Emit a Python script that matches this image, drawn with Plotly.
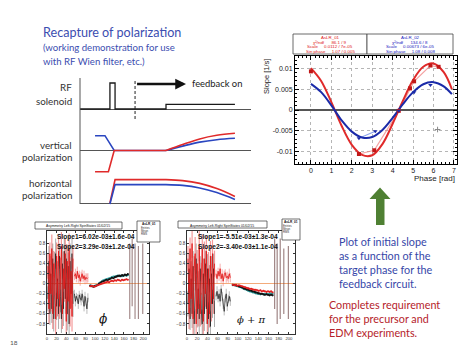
import plotly.graph_objects as go

W, H = 474, 355


def dx(a, b):
    return [a / W, b / W]


def dy(top, bottom):
    return [1 - bottom / H, 1 - top / H]


def px(x):
    return x / W


def py(y):
    return 1 - y / H


# ---------------- DATA ----------------
# Main chart: slope vs target phase (fit curves)
phase_grid = [0, 0.5, 1.0, 1.5, 2.0, 2.5, 3.0, 3.5, 4.0, 4.5, 5.0, 5.5, 6.0, 6.5, 6.9]
red_fit = [0.0101, 0.0070, 0.0019, -0.0038, -0.0084, -0.0108, -0.0109, -0.0082,
           -0.0033, 0.0022, 0.0072, 0.0104, 0.0112, 0.0091, 0.0050]
blue_fit = [0.0063, 0.0043, 0.0011, -0.0025, -0.0052, -0.0066, -0.0065, -0.0048,
            -0.0019, 0.0014, 0.0043, 0.0062, 0.0067, 0.0057, 0.0038]
red_meas_x = [0, 2.35, 3.1, 4.3, 4.85, 5.05, 5.85, 6.25]
red_meas_y = [0.0093, -0.0106, -0.0097, -0.0002, 0.0052, 0.0069, 0.0107, 0.0104]
blue_meas_x = [2.35, 3.15, 4.3, 5.05, 5.85]
blue_meas_y = [-0.0068, -0.0051, -0.0002, 0.0043, 0.0060]
gray_meas_x = [6.2]
gray_meas_y = [-0.0047]
x_ticks = [0, 1, 2, 3, 4, 5, 6, 7]
y_ticks = [-0.01, -0.005, 0, 0.005, 0.01]
y_tick_text = ["-0.01", "-0.005", "0", "0.005", "0.01"]

stat_red = ["AsLR_01", "χ²/ndf      86.1 / 9", "Scale     0.0112 / 7e-05", "Sin phase     1.07 / 0.005"]
stat_blue = ["AsLR_02", "χ²/ndf      134.6 / 8", "Scale     0.00673 / 6e-05", "Sin phase     1.08 / 0.008"]

# Schematic (time in arbitrary units 0..100)
rf_t = [0, 17.5, 17.5, 20.5, 20.5, 50.3, 50.3, 90.6]
rf_v = [0, 0, 1, 1, 0, 0, 0.18, 0.18]
vert_blue_t = [8.8, 14.6, 20.0, 50.3]
vert_blue_v = [0.74, 0.74, 0, 0]
vert_blue_rise_t = [50.3, 60, 70, 80, 90.6]
vert_blue_rise_v = [0, 0.22, 0.42, 0.54, 0.61]
vert_red_t = [8.8, 16.6, 20.0, 50.3]
vert_red_v = [-1.06, -1.06, 0, 0]
vert_red_rise_t = [50.3, 60, 70, 80, 90.6]
vert_red_rise_v = [0, 0.30, 0.58, 0.76, 0.86]
hor_red_t = [17.5, 20.5, 50.3]
hor_red_v = [0, 1.17, 1.17]
hor_red_fall_t = [50.3, 60, 70, 80, 90.6]
hor_red_fall_v = [1.17, 1.12, 0.98, 0.72, 0.33]
hor_blue_t = [17.5, 20.5, 50.3]
hor_blue_v = [-0.05, 0.92, 0.92]
hor_blue_fall_t = [50.3, 60, 70, 80, 90.6]
hor_blue_fall_v = [0.92, 0.88, 0.75, 0.52, 0.18]
feedback_on_t = 32.2
feedback_arrow_end_t = 62.0

# Small asymmetry plots
noisy_x = [2, 4, 6, 8, 10, 12, 14, 16, 18, 20, 22, 24, 26, 28, 30, 32, 34, 36, 38, 40, 42, 44, 46, 48, 50, 52, 54]
noisy_err = [0.25, 0.3, 0.22, 0.35, 0.28, 0.3, 0.25, 0.33, 0.3, 0.27, 0.35, 0.3, 0.25, 0.32, 0.28,
             0.3, 0.34, 0.26, 0.3, 0.29, 0.33, 0.27, 0.3, 0.35, 0.28, 0.3, 0.26]
mid_x = [57, 59, 61, 63, 65, 67, 69, 71, 73, 75, 77, 79, 81, 83, 85]
mid_err = [0.08, 0.1, 0.07, 0.09, 0.1, 0.08, 0.09, 0.1, 0.08, 0.07, 0.1, 0.09, 0.08, 0.1, 0.09]
right_x = [90, 93, 96, 99, 102, 105, 108, 111, 114, 117, 120, 123, 126, 129, 132, 135, 138, 141,
           144, 147, 150, 153, 156, 159, 162, 165, 168]
bar_x = [172, 177, 183, 190, 199]

red_noise1 = [0.35, -0.5, 0.6, -0.2, 0.7, -0.6, 0.4, 0.1, -0.7, 0.55, -0.3, 0.65, -0.45, 0.2, 0.75,
              -0.6, 0.3, -0.1, 0.6, -0.75, 0.45, -0.35, 0.7, -0.5, 0.25, -0.65, 0.5]
black_noise1 = [-0.3, 0.45, -0.6, 0.2, -0.5, 0.5, -0.7, 0.3, 0.6, -0.45, 0.1, -0.6, 0.55, -0.25,
                -0.7, 0.4, -0.5, 0.65, -0.3, 0.5, -0.6, 0.35, -0.8, 0.45, -0.2, 0.6, -0.4]
red_mid1 = [0.15, 0.2, 0.1, 0.25, 0.12, 0.18, 0.05, 0.14, 0.2, 0.1, 0.16, 0.08, 0.13, 0.1, 0.12]
black_mid1 = [-0.2, -0.35, -0.25, -0.3, -0.4, -0.22, -0.28, -0.33, -0.2, -0.3, -0.45, -0.25, -0.35, -0.5, -0.28]
red_right1 = [-0.05, -0.04, -0.05, -0.06, -0.04, -0.03, -0.02, -0.01, 0.0, 0.01, 0.02, 0.03, 0.04, 0.03,
              0.05, 0.06, 0.05, 0.07, 0.06, 0.08, 0.07, 0.06, 0.08, 0.07, 0.08, 0.09, 0.08]
black_right1 = [-0.04, -0.05, -0.06, -0.05, -0.04, -0.03, 0.0, 0.02, 0.04, 0.05, 0.06, 0.08, 0.07, 0.09,
                0.1, 0.12, 0.11, 0.13, 0.14, 0.15, 0.16, 0.15, 0.17, 0.16, 0.18, 0.17, 0.19]
cyan_right1 = [-0.03, -0.04, -0.05, -0.04, -0.03, -0.02, 0.01, 0.03, 0.05, 0.07, 0.08, 0.09, 0.1, 0.11,
               0.12, 0.13, 0.14, 0.14, 0.15, 0.16, 0.15, 0.16, 0.15, 0.16, 0.17, 0.16, 0.17]
bar_low1 = [-0.7, -0.45, -0.7, -0.7, -0.6]
bar_high1 = [0.8, 0.9, 0.8, 0.75, 0.8]

red_noise2 = [0.5, -0.6, 0.7, -0.3, 0.8, -0.7, 0.3, 0.6, -0.8, 0.4, -0.5, 0.75, -0.6, 0.1, 0.7,
              -0.75, 0.5, -0.2, 0.65, -0.8, 0.3, -0.6, 0.55, -0.4, 0.6, -0.3, 0.4]
black_noise2 = [-0.4, 0.3, -0.7, 0.1, -0.6, 0.35, -0.8, 0.2, 0.5, -0.6, -0.1, -0.7, 0.3, -0.5, -0.8,
                0.2, -0.6, 0.4, -0.5, 0.3, -0.7, 0.1, -0.85, 0.2, -0.4, 0.3, -0.6]
red_mid2 = [0.2, 0.1, 0.25, 0.15, 0.3, 0.1, 0.2, 0.05, 0.18, 0.22, 0.12, 0.15, 0.1, 0.2, 0.12]
black_mid2 = [-0.25, -0.15, -0.3, -0.2, -0.35, -0.1, -0.25, -0.4, -0.55, -0.3, -0.2, -0.45, -0.3, -0.25, -0.35]
red_right2 = [-0.02, -0.03, -0.02, -0.04, -0.03, -0.04, -0.05, -0.06, -0.07, -0.08, -0.09, -0.1, -0.1,
              -0.11, -0.12, -0.12, -0.13, -0.14, -0.13, -0.15, -0.14, -0.15, -0.16, -0.15, -0.16, -0.15, -0.17]
black_right2 = [-0.02, -0.03, -0.03, -0.04, -0.05, -0.06, -0.07, -0.09, -0.1, -0.11, -0.12, -0.13, -0.14,
                -0.15, -0.16, -0.17, -0.18, -0.19, -0.2, -0.2, -0.21, -0.22, -0.21, -0.22, -0.23, -0.22, -0.23]
cyan_right2 = [-0.03, -0.02, -0.04, -0.05, -0.06, -0.07, -0.08, -0.1, -0.11, -0.12, -0.14, -0.15, -0.16,
               -0.17, -0.18, -0.19, -0.2, -0.2, -0.21, -0.2, -0.21, -0.2, -0.2, -0.21, -0.2, -0.19, -0.2]
bar_low2 = [-0.5, -0.8, -0.7, -0.6, -0.7]
bar_high2 = [0.9, 0.8, 0.9, 0.7, 0.75]
small_y_ticks = [-0.8, -0.6, -0.4, -0.2, 0, 0.2, 0.4, 0.6, 0.8]
small_x_ticks = [0, 20, 40, 60, 80, 100, 120, 140, 160, 180, 200]

# ---------------- STYLE ----------------
RED = "#e02a2a"
BLUE = "#2a46c0"
TITLE_BLUE = "#3b4db0"
TEXT_RED = "#b5232b"
SLIDE_FONT = "Lato"
ROOT_FONT = "Liberation Sans"

fig = go.Figure()

# ---- main chart ----
fig.add_trace(go.Scatter(x=red_meas_x[1:], y=red_meas_y[1:], mode="lines", xaxis="x", yaxis="y",
                         line=dict(color="rgba(240,130,130,0.75)", width=1.2), hoverinfo="skip"))
fig.add_trace(go.Scatter(x=blue_meas_x[:2], y=blue_meas_y[:2], mode="lines", xaxis="x", yaxis="y",
                         line=dict(color="rgba(110,140,230,0.8)", width=1.2), hoverinfo="skip"))
fig.add_trace(go.Scatter(x=phase_grid, y=red_fit, mode="lines", line_shape="spline",
                         line=dict(color=RED, width=2), xaxis="x", yaxis="y"))
fig.add_trace(go.Scatter(x=phase_grid, y=blue_fit, mode="lines", line_shape="spline",
                         line=dict(color="#1a2aa8", width=2), xaxis="x", yaxis="y"))
fig.add_trace(go.Scatter(x=red_meas_x, y=red_meas_y, mode="markers", xaxis="x", yaxis="y",
                         marker=dict(color="#c01818", size=4, symbol="square")))
fig.add_trace(go.Scatter(x=blue_meas_x, y=blue_meas_y, mode="markers", xaxis="x", yaxis="y",
                         marker=dict(color="#1a2aa8", size=4, symbol="triangle-down")))
fig.add_trace(go.Scatter(x=gray_meas_x, y=gray_meas_y, mode="markers", xaxis="x", yaxis="y",
                         marker=dict(color="#888", size=4, symbol="cross-thin",
                                     line=dict(color="#888", width=1))))

# ---- schematic ----
blk = dict(color="#1a1a1a", width=1.3)
fig.add_trace(go.Scatter(x=rf_t, y=rf_v, mode="lines", line=blk, xaxis="x2", yaxis="y2"))
fig.add_trace(go.Scatter(x=vert_blue_t, y=vert_blue_v, mode="lines", line=dict(color=BLUE, width=1.6),
                         xaxis="x2", yaxis="y3"))
fig.add_trace(go.Scatter(x=vert_blue_rise_t, y=vert_blue_rise_v, mode="lines", line_shape="spline",
                         line=dict(color=BLUE, width=1.6), xaxis="x2", yaxis="y3"))
fig.add_trace(go.Scatter(x=vert_red_t, y=vert_red_v, mode="lines", line=dict(color=RED, width=1.6),
                         xaxis="x2", yaxis="y3"))
fig.add_trace(go.Scatter(x=vert_red_rise_t, y=vert_red_rise_v, mode="lines", line_shape="spline",
                         line=dict(color=RED, width=1.6), xaxis="x2", yaxis="y3"))
fig.add_trace(go.Scatter(x=hor_red_t, y=hor_red_v, mode="lines", line=dict(color=RED, width=1.6),
                         xaxis="x2", yaxis="y4"))
fig.add_trace(go.Scatter(x=hor_red_fall_t, y=hor_red_fall_v, mode="lines", line_shape="spline",
                         line=dict(color=RED, width=1.6), xaxis="x2", yaxis="y4"))
fig.add_trace(go.Scatter(x=hor_blue_t, y=hor_blue_v, mode="lines", line=dict(color=BLUE, width=1.6),
                         xaxis="x2", yaxis="y4"))
fig.add_trace(go.Scatter(x=hor_blue_fall_t, y=hor_blue_fall_v, mode="lines", line_shape="spline",
                         line=dict(color=BLUE, width=1.6), xaxis="x2", yaxis="y4"))


# ---- small asymmetry plots ----
def add_small(xa, ya, red_noise, black_noise, red_mid, black_mid, red_r, black_r, cyan_r, blow, bhigh):
    fig.add_trace(go.Bar(x=bar_x, y=[h - l for h, l in zip(bhigh, blow)], base=blow, width=2.4,
                         marker=dict(color="rgba(110,70,70,0.65)", line=dict(width=0)),
                         xaxis=xa, yaxis=ya))
    fig.add_trace(go.Scatter(x=noisy_x, y=black_noise, mode="lines", xaxis=xa, yaxis=ya,
                             line=dict(color="rgba(20,20,20,0.85)", width=0.8),
                             error_y=dict(type="data", array=noisy_err, color="rgba(90,90,90,0.5)",
                                          thickness=1, width=0)))
    fig.add_trace(go.Scatter(x=noisy_x, y=red_noise, mode="lines", xaxis=xa, yaxis=ya,
                             line=dict(color="rgba(225,20,20,0.9)", width=0.9),
                             error_y=dict(type="data", array=noisy_err, color="rgba(235,70,70,0.55)",
                                          thickness=1.2, width=0)))
    fig.add_trace(go.Scatter(x=mid_x, y=black_mid, mode="lines", xaxis=xa, yaxis=ya,
                             line=dict(color="rgba(20,20,20,0.85)", width=0.8),
                             error_y=dict(type="data", array=mid_err, color="rgba(120,120,120,0.5)",
                                          thickness=1, width=0)))
    fig.add_trace(go.Scatter(x=mid_x, y=red_mid, mode="lines", xaxis=xa, yaxis=ya,
                             line=dict(color="rgba(225,20,20,0.9)", width=0.9),
                             error_y=dict(type="data", array=mid_err, color="rgba(240,110,110,0.55)",
                                          thickness=1, width=0)))
    for arr, col in ((cyan_r, "#2a9e9e"), (black_r, "#111111"), (red_r, "#e02020")):
        fig.add_trace(go.Scatter(x=right_x, y=arr, mode="lines+markers", xaxis=xa, yaxis=ya,
                                 line=dict(color=col, width=0.7),
                                 marker=dict(color=col, size=2.2)))


add_small("x5", "y5", red_noise1, black_noise1, red_mid1, black_mid1,
          red_right1, black_right1, cyan_right1, bar_low1, bar_high1)
add_small("x6", "y6", red_noise2, black_noise2, red_mid2, black_mid2,
          red_right2, black_right2, cyan_right2, bar_low2, bar_high2)

# ---------------- LAYOUT ----------------
root_axis = dict(showline=True, linecolor="black", linewidth=1, mirror="ticks", ticks="inside",
                 tickcolor="black", tickfont=dict(family=ROOT_FONT, size=7, color="#222"),
                 showgrid=True, gridcolor="#b5b5b5", griddash="dot", gridwidth=0.8, zeroline=False)

hidden_y = dict(showticklabels=False, showgrid=False, showline=False, ticks="",
                zeroline=True, zerolinecolor="#555", zerolinewidth=1, fixedrange=True)

small_x = dict(showline=True, linecolor="#333", linewidth=0.8, mirror="ticks", ticks="inside",
               ticklen=2, tickcolor="#333", tickvals=small_x_ticks, tickangle=0,
               tickfont=dict(family=ROOT_FONT, size=4.2, color="#333"), showgrid=False, zeroline=False,
               range=[0, 212])
small_y = dict(showline=True, linecolor="#333", linewidth=0.8, mirror="ticks", ticks="inside",
               ticklen=2, tickcolor="#333", tickvals=small_y_ticks,
               tickfont=dict(family=ROOT_FONT, size=4.5, color="#333"), showgrid=False,
               zeroline=True, zerolinecolor="rgba(240,150,90,0.8)", zerolinewidth=0.7,
               range=[-1.0, 1.05])

fig.update_layout(
    width=W, height=H, margin=dict(l=0, r=0, t=0, b=0),
    paper_bgcolor="white", plot_bgcolor="rgba(0,0,0,0)", showlegend=False, barmode="overlay",
    xaxis=dict(root_axis, domain=dx(295, 457), range=[-0.78, 7.15], anchor="y",
               tickvals=x_ticks, ticklen=4,
               minor=dict(ticks="inside", ticklen=2, dtick=0.2, tick0=0, tickcolor="black", showgrid=False)),
    yaxis=dict(root_axis, domain=dy(56, 164), range=[-0.013, 0.013], anchor="x",
               tickvals=y_ticks, ticktext=y_tick_text, ticklen=4,
               zeroline=True, zerolinecolor="#555", zerolinewidth=1.5,
               minor=dict(ticks="inside", ticklen=2, dtick=0.001, tick0=0, tickcolor="black", showgrid=False)),
    xaxis2=dict(domain=dx(80, 251), range=[0, 100], anchor="y4", visible=False),
    yaxis2=dict(hidden_y, domain=dy(78, 112), range=[-0.115, 1.192], anchor="x2"),
    yaxis3=dict(hidden_y, domain=dy(120, 178), range=[-1.375, 1.525], anchor="x2"),
    yaxis4=dict(hidden_y, domain=dy(176, 206), range=[-0.15, 1.35], anchor="x2"),
    xaxis5=dict(small_x, domain=dx(47, 149), anchor="y5"),
    yaxis5=dict(small_y, domain=dy(231, 334), anchor="x5"),
    xaxis6=dict(small_x, domain=dx(187, 295), anchor="y6"),
    yaxis6=dict(small_y, domain=dy(231, 334), anchor="x6"),
)

shapes = []
# schematic vertical axis line and dashed "feedback on" marker
shapes.append(dict(type="line", xref="paper", yref="paper", x0=px(80), x1=px(80), y0=py(78), y1=py(204),
                   line=dict(color="#555", width=1)))
shapes.append(dict(type="line", xref="x2", yref="paper", x0=feedback_on_t, x1=feedback_on_t,
                   y0=py(81), y1=py(120), line=dict(color="#222", width=1, dash="3px,2px")))
# green arrow
arrow_pts = [(376, 225), (376, 199), (369.5, 199), (380, 187.5), (390.5, 199), (384.5, 199), (384.5, 225)]
path = "M " + " L ".join(f"{px(a):.5f},{py(b):.5f}" for a, b in arrow_pts) + " Z"
shapes.append(dict(type="path", xref="paper", yref="paper", path=path,
                   fillcolor="#4f8033", line=dict(width=0)))
# stat boxes on main chart
for x0, x1 in ((293, 367), (367, 453)):
    shapes.append(dict(type="rect", xref="paper", yref="paper", x0=px(x0), x1=px(x1), y0=py(54), y1=py(34),
                       line=dict(color="#444", width=0.8), fillcolor="white"))
# small plot title and stat boxes
for x0, x1, y0, y1 in ((35, 122, 222, 229), (178, 267, 221, 228), (137, 160, 221, 242), (282, 300, 219, 240)):
    shapes.append(dict(type="rect", xref="paper", yref="paper", x0=px(x0), x1=px(x1), y0=py(y1), y1=py(y0),
                       line=dict(color="#333", width=0.7), fillcolor="white"))
fig.update_layout(shapes=shapes)

ann = []


def txt(x, y, s, size, color, xanchor="left", family=SLIDE_FONT, **kw):
    ann.append(dict(x=px(x), y=py(y), xref="paper", yref="paper", text=s, showarrow=False,
                    xanchor=xanchor, yanchor="middle", font=dict(family=family, size=size, color=color), **kw))


# slide title
txt(41, 33, "Recapture of polarization", 12.6, TITLE_BLUE)
txt(41, 47, "(working demonstration for use", 9.6, TITLE_BLUE)
txt(41, 61, "with RF Wien filter, etc.)", 9.6, TITLE_BLUE)
# schematic labels
for s, y in (("RF", 87), ("solenoid", 101), ("vertical", 145), ("polarization", 157),
             ("horizontal", 183), ("polarization", 195)):
    txt(74, y, s, 9.8, "#333", xanchor="right")
txt(190, 83.5, "feedback on", 9.4, "#222")
ann.append(dict(x=feedback_arrow_end_t, y=0.96, xref="x2", yref="y2", ax=feedback_on_t + 0.3, ay=0.96,
                axref="x2", ayref="y2", text="", showarrow=True, arrowhead=2, arrowsize=0.9,
                arrowwidth=2.4, arrowcolor="#111"))
# main chart labels
txt(457, 178, "Phase [rad]", 8, "#222", xanchor="right", family=ROOT_FONT)
ann.append(dict(x=px(267), y=py(77), xref="paper", yref="paper", text="Slope [1/s]", showarrow=False,
                textangle=-90, xanchor="center", yanchor="middle",
                font=dict(family=ROOT_FONT, size=7.5, color="#222")))
for i, s in enumerate(stat_red):
    txt(330, 37.5 + i * 4.7, s, 4.4, "#e01818", xanchor="center", family=ROOT_FONT)
for i, s in enumerate(stat_blue):
    txt(410, 37.5 + i * 4.7, s, 4.4, "#1a20c0", xanchor="center", family=ROOT_FONT)
# right text blocks
for i, s in enumerate(["Plot of initial slope", "as a function of the", "target phase for the", "feedback circuit."]):
    txt(337, 241 + i * 14, s, 10.8, "#3546a8")
for i, s in enumerate(["Completes requirement", "for the precursor and", "EDM experiments."]):
    txt(327, 304 + i * 14, s, 10.8, TEXT_RED)
# page number
txt(8, 342, "18", 6.5, "#555")
# small plots
for x in (78, 222):
    txt(x, 225.5, "Asymmetry Left-Right SpinStates 01/02/15", 3.4, "#111", xanchor="center", family=ROOT_FONT)
for xb, yb in ((148.5, 224), (291, 222)):
    txt(xb, yb, "<b>AsLR_01</b>", 3.2, "#111", xanchor="center", family=ROOT_FONT)
    for j, s in enumerate(["Entries", "Mean", "RMS"]):
        txt(xb - 10, yb + 3.6 + j * 3.3, s, 2.8, "#333", family=ROOT_FONT)
txt(55, 237, "<b>Slope1=6.02e-03±1.6e-04</b>", 6.6, "#111", family=ROOT_FONT)
txt(55, 247, "<b>Slope2=3.29e-03±1.2e-04</b>", 6.6, "#111", family=ROOT_FONT)
txt(196, 237, "<b>Slope1=-5.51e-03±1.3e-04</b>", 6.6, "#111", family=ROOT_FONT)
txt(196, 247, "<b>Slope2=-3.40e-03±1.1e-04</b>", 6.6, "#111", family=ROOT_FONT)
txt(103, 319, "<i>ϕ</i>", 12, "#111", xanchor="center", family="DejaVu Serif")
txt(252, 319, "<i>ϕ</i> + <i>π</i>", 10, "#111", xanchor="center", family="DejaVu Serif")

fig.update_layout(annotations=ann)
fig.write_html("out.html", config={"displayModeBar": False},
               post_script="document.body.style.margin='0px';document.body.style.overflow='hidden';")
